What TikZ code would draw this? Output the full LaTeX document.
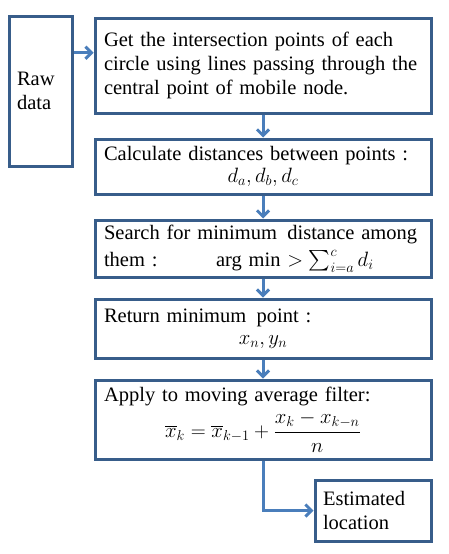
\documentclass[tikz,border=0pt]{standalone}
\usepackage{amsmath,amssymb}
\usepackage{fontspec}
\setmainfont{Liberation Serif}
\usepackage{tikz}
\usetikzlibrary{arrows.meta,calc,positioning}
\definecolor{boxcolor}{RGB}{56,93,138}
\definecolor{arrowcolor}{RGB}{74,126,187}
\tikzstyle{stepbox}=[rectangle,draw=boxcolor,line width=3pt,inner sep=0pt,text width=318pt,align=left,minimum width=336pt,font=\fontsize{20.5}{24}\selectfont]
\tikzstyle{sidebox}=[stepbox,text width=47pt,minimum width=63pt,minimum height=150pt]
\tikzstyle{flowedge}=[-{Straight Barb[length=6pt,width=12pt]},line width=3pt,draw=arrowcolor]
\newcommand{\midline}[1]{\makebox[318pt]{#1}}

\begin{document}
\begin{tikzpicture}[x=1pt,y=-1pt]
\def\colx{263}
\useasboundingbox (0,0) rectangle (448,554);

	% Input
    \node[sidebox] (raw) at (40.5,91) {Raw\\data};

    % Steps
    \node[stepbox, minimum height=95pt] (get) at (\colx,65.5)
        {Get the intersection points of each\\circle using lines passing through the\\central point of mobile node.};
    \node[stepbox, minimum height=55pt] (dist) at (\colx,166.5)
        {Calculate distances between points :\\[-2pt]\midline{$d_a, d_b, d_c$}};
    \node[stepbox, minimum height=57pt] (search) at (\colx,248.5)
        {Search for minimum\, distance among\\[3pt]them : \hspace{38pt} arg min $>\sum_{i=a}^{c} d_i$};
    \node[stepbox, minimum height=59pt] (ret) at (\colx,328.5)
        {Return minimum\, point :\\[-2pt]\midline{$x_n, y_n$}};
    \node[stepbox, minimum height=79pt] (avg) at (\colx,419.5)
        {Apply to moving average filter:\\[5pt]\midline{$\overline{x}_k = \overline{x}_{k-1} + \dfrac{x_k - x_{k-n}}{n}$}};

    % Output
    \node[stepbox, text width=100pt, minimum width=116pt, minimum height=61pt] (est) at (373,510.5)
        {Estimated\\location};

	% Raw data -> first step
    \coordinate (rawout) at ($(raw.north east)!0.25!(raw.south east)$);
    \draw[flowedge] (rawout) -- (rawout -| get.west);

    \draw[flowedge] (get) -- (dist);
    \draw[flowedge] (dist) -- (search);
    \draw[flowedge] (search) -- (ret);
    \draw[flowedge] (ret) -- (avg);

    % Last step -> output
    \draw[flowedge] (avg.south) |- (est.west);

\end{tikzpicture}
\end{document}
